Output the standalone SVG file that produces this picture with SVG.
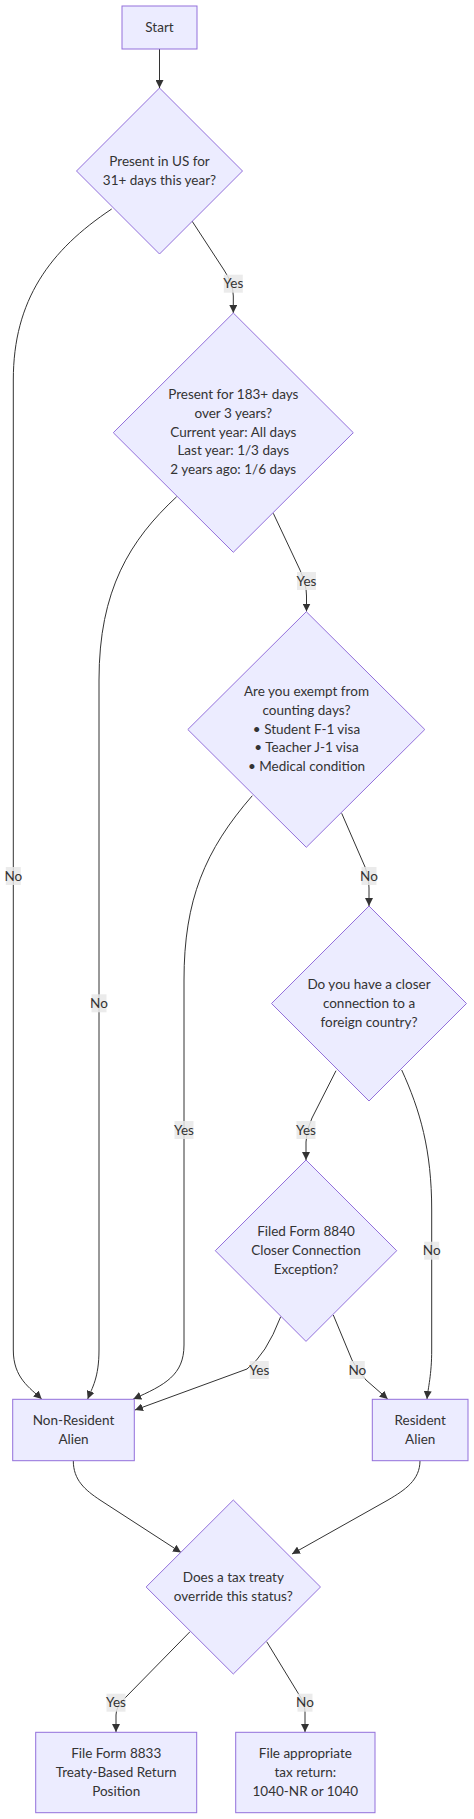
<svg xmlns="http://www.w3.org/2000/svg" width="474" height="1819" viewBox="0 0 474 1819">
<style>
.node{fill:#ECECFF;stroke:#9370DB;stroke-width:1}
.t{font-family:Lato,"Liberation Sans",sans-serif;font-size:13.5px;fill:#333;text-anchor:middle}
.e{fill:none;stroke:#333;stroke-width:1}
.lb{fill:#e8e8e8;opacity:0.85}
</style>
<defs>
<marker id="arr" viewBox="0 0 10 10" refX="10" refY="5" markerWidth="8" markerHeight="8" markerUnits="userSpaceOnUse" orient="auto">
<path d="M0,0 L10,5 L0,10 z" fill="#333"/>
</marker>
</defs>
<rect width="474" height="1819" fill="#fff"/>
<g id="connectors">
<path class="e" marker-end="url(#arr)" d="M159.5,49 L159.5,88"/>
<path class="e" marker-end="url(#arr)" d="M192,221 L224,270 Q233.3,284 233.3,296 L233.3,313"/>
<path class="e" marker-end="url(#arr)" d="M273.3,513.3 L300,570 Q306.5,584 306.5,596 L306.5,611.5"/>
<path class="e" marker-end="url(#arr)" d="M341.7,813.3 L362,860 Q369,874 369,888 L369,906"/>
<path class="e" marker-end="url(#arr)" d="M336,1070.7 L312,1118 Q306,1130 306,1142 L306,1160"/>
<path class="e" marker-end="url(#arr)" d="M401.7,1070 C420,1110 431.7,1150 431.7,1210 L431.7,1350 C431.7,1375 428,1388 427,1399"/>
<path class="e" marker-end="url(#arr)" d="M111.7,209 C50,250 13.3,300 13.3,380 L13.3,1350 C13.3,1378 30,1388 41.7,1399"/>
<path class="e" marker-end="url(#arr)" d="M176.7,496.7 C130,540 99,590 99,680 L99,1350 C99,1378 92,1388 87.7,1399"/>
<path class="e" marker-end="url(#arr)" d="M252.3,795.7 C205,850 184,900 184,980 L184,1345 C184,1375 165,1385 133.3,1399"/>
<path class="e" marker-end="url(#arr)" d="M280.7,1316.7 Q266,1355 247,1369 L135,1410"/>
<path class="e" marker-end="url(#arr)" d="M333.3,1315 L352,1360 Q358,1372 366,1380 L387.7,1399"/>
<path class="e" marker-end="url(#arr)" d="M73.3,1460.7 C73.3,1480 85,1490 100,1500 L181,1552.5"/>
<path class="e" marker-end="url(#arr)" d="M420,1460.7 C420,1480 405,1490 388,1500 L292,1554"/>
<path class="e" marker-end="url(#arr)" d="M190,1631.7 L125,1698 Q116,1706 116,1715 L116,1732"/>
<path class="e" marker-end="url(#arr)" d="M266.7,1641.7 L298,1693 Q305,1703 305,1712 L305,1732"/>
</g>
<g id="edge-labels">
<rect class="lb" x="223.8" y="274.7" width="19" height="18"/><text class="t" x="233.3" y="288.2">Yes</text>
<rect class="lb" x="297" y="572" width="19" height="18"/><text class="t" x="306.5" y="585.5">Yes</text>
<rect class="lb" x="361.5" y="867" width="15" height="18"/><text class="t" x="369" y="880.5">No</text>
<rect class="lb" x="5.8" y="867" width="15" height="18"/><text class="t" x="13.3" y="880.5">No</text>
<rect class="lb" x="91.5" y="994.3" width="15" height="18"/><text class="t" x="99" y="1007.8">No</text>
<rect class="lb" x="174.5" y="1121" width="19" height="18"/><text class="t" x="184" y="1134.5">Yes</text>
<rect class="lb" x="296.5" y="1121" width="19" height="18"/><text class="t" x="306" y="1134.5">Yes</text>
<rect class="lb" x="424.2" y="1241.7" width="15" height="18"/><text class="t" x="431.7" y="1255.2">No</text>
<rect class="lb" x="249.8" y="1361" width="19" height="18"/><text class="t" x="259.3" y="1374.5">Yes</text>
<rect class="lb" x="349.8" y="1361" width="15" height="18"/><text class="t" x="357.3" y="1374.5">No</text>
<rect class="lb" x="106.5" y="1693.7" width="19" height="18"/><text class="t" x="116" y="1707.2">Yes</text>
<rect class="lb" x="297.5" y="1693.7" width="15" height="18"/><text class="t" x="305" y="1707.2">No</text>
</g>
<g id="start">
<rect class="node" x="122" y="6" width="75" height="43"/>
<text class="t" x="159.5" y="32">Start</text>
</g>
<g id="q1">
<polygon class="node" points="159.5,88 242.5,171 159.5,254 76.5,171"/>
<text class="t" x="159.5" y="166">Present in US for</text>
<text class="t" x="159.5" y="185">31+ days this year?</text>
</g>
<g id="q2">
<polygon class="node" points="233.3,313 353.3,432.7 233.3,552.3 113.3,432.7"/>
<text class="t" x="233.3" y="399">Present for 183+ days</text>
<text class="t" x="233.3" y="417.8">over 3 years?</text>
<text class="t" x="233.3" y="436.6">Current year: All days</text>
<text class="t" x="233.3" y="455.4">Last year: 1/3 days</text>
<text class="t" x="233.3" y="474.2">2 years ago: 1/6 days</text>
</g>
<g id="q3">
<polygon class="node" points="306.3,611.7 424.8,729.5 306.3,847.3 187.8,729.5"/>
<text class="t" x="306.5" y="696">Are you exempt from</text>
<text class="t" x="306.5" y="714.8">counting days?</text>
<text class="t" x="306.5" y="733.6">• Student F-1 visa</text>
<text class="t" x="306.5" y="752.4">• Teacher J-1 visa</text>
<text class="t" x="306.5" y="771.2">• Medical condition</text>
</g>
<g id="q4">
<polygon class="node" points="369,906 466.5,1003.5 369,1101 271.5,1003.5"/>
<text class="t" x="369" y="989">Do you have a closer</text>
<text class="t" x="369" y="1008">connection to a</text>
<text class="t" x="369" y="1027">foreign country?</text>
</g>
<g id="q5">
<polygon class="node" points="306,1160 396.7,1250.7 306,1341.4 215.3,1250.7"/>
<text class="t" x="306" y="1236">Filed Form 8840</text>
<text class="t" x="306" y="1255">Closer Connection</text>
<text class="t" x="306" y="1274">Exception?</text>
</g>
<g id="nonresident">
<rect class="node" x="12.7" y="1399.3" width="121.6" height="61.4"/>
<text class="t" x="73.5" y="1425">Non-Resident</text>
<text class="t" x="73.5" y="1444">Alien</text>
</g>
<g id="resident">
<rect class="node" x="372.3" y="1399.3" width="95.7" height="61.4"/>
<text class="t" x="420.2" y="1425">Resident</text>
<text class="t" x="420.2" y="1444">Alien</text>
</g>
<g id="q6">
<polygon class="node" points="233.3,1500 320.5,1587 233.3,1674 146.1,1587"/>
<text class="t" x="233.3" y="1582">Does a tax treaty</text>
<text class="t" x="233.3" y="1601">override this status?</text>
</g>
<g id="form8833">
<rect class="node" x="35.7" y="1732.3" width="161" height="80.4"/>
<text class="t" x="116.2" y="1758">File Form 8833</text>
<text class="t" x="116.2" y="1777">Treaty-Based Return</text>
<text class="t" x="116.2" y="1796">Position</text>
</g>
<g id="filereturn">
<rect class="node" x="235.7" y="1732.3" width="139.3" height="80.4"/>
<text class="t" x="305.3" y="1758">File appropriate</text>
<text class="t" x="305.3" y="1777">tax return:</text>
<text class="t" x="305.3" y="1796">1040-NR or 1040</text>
</g>
</svg>
